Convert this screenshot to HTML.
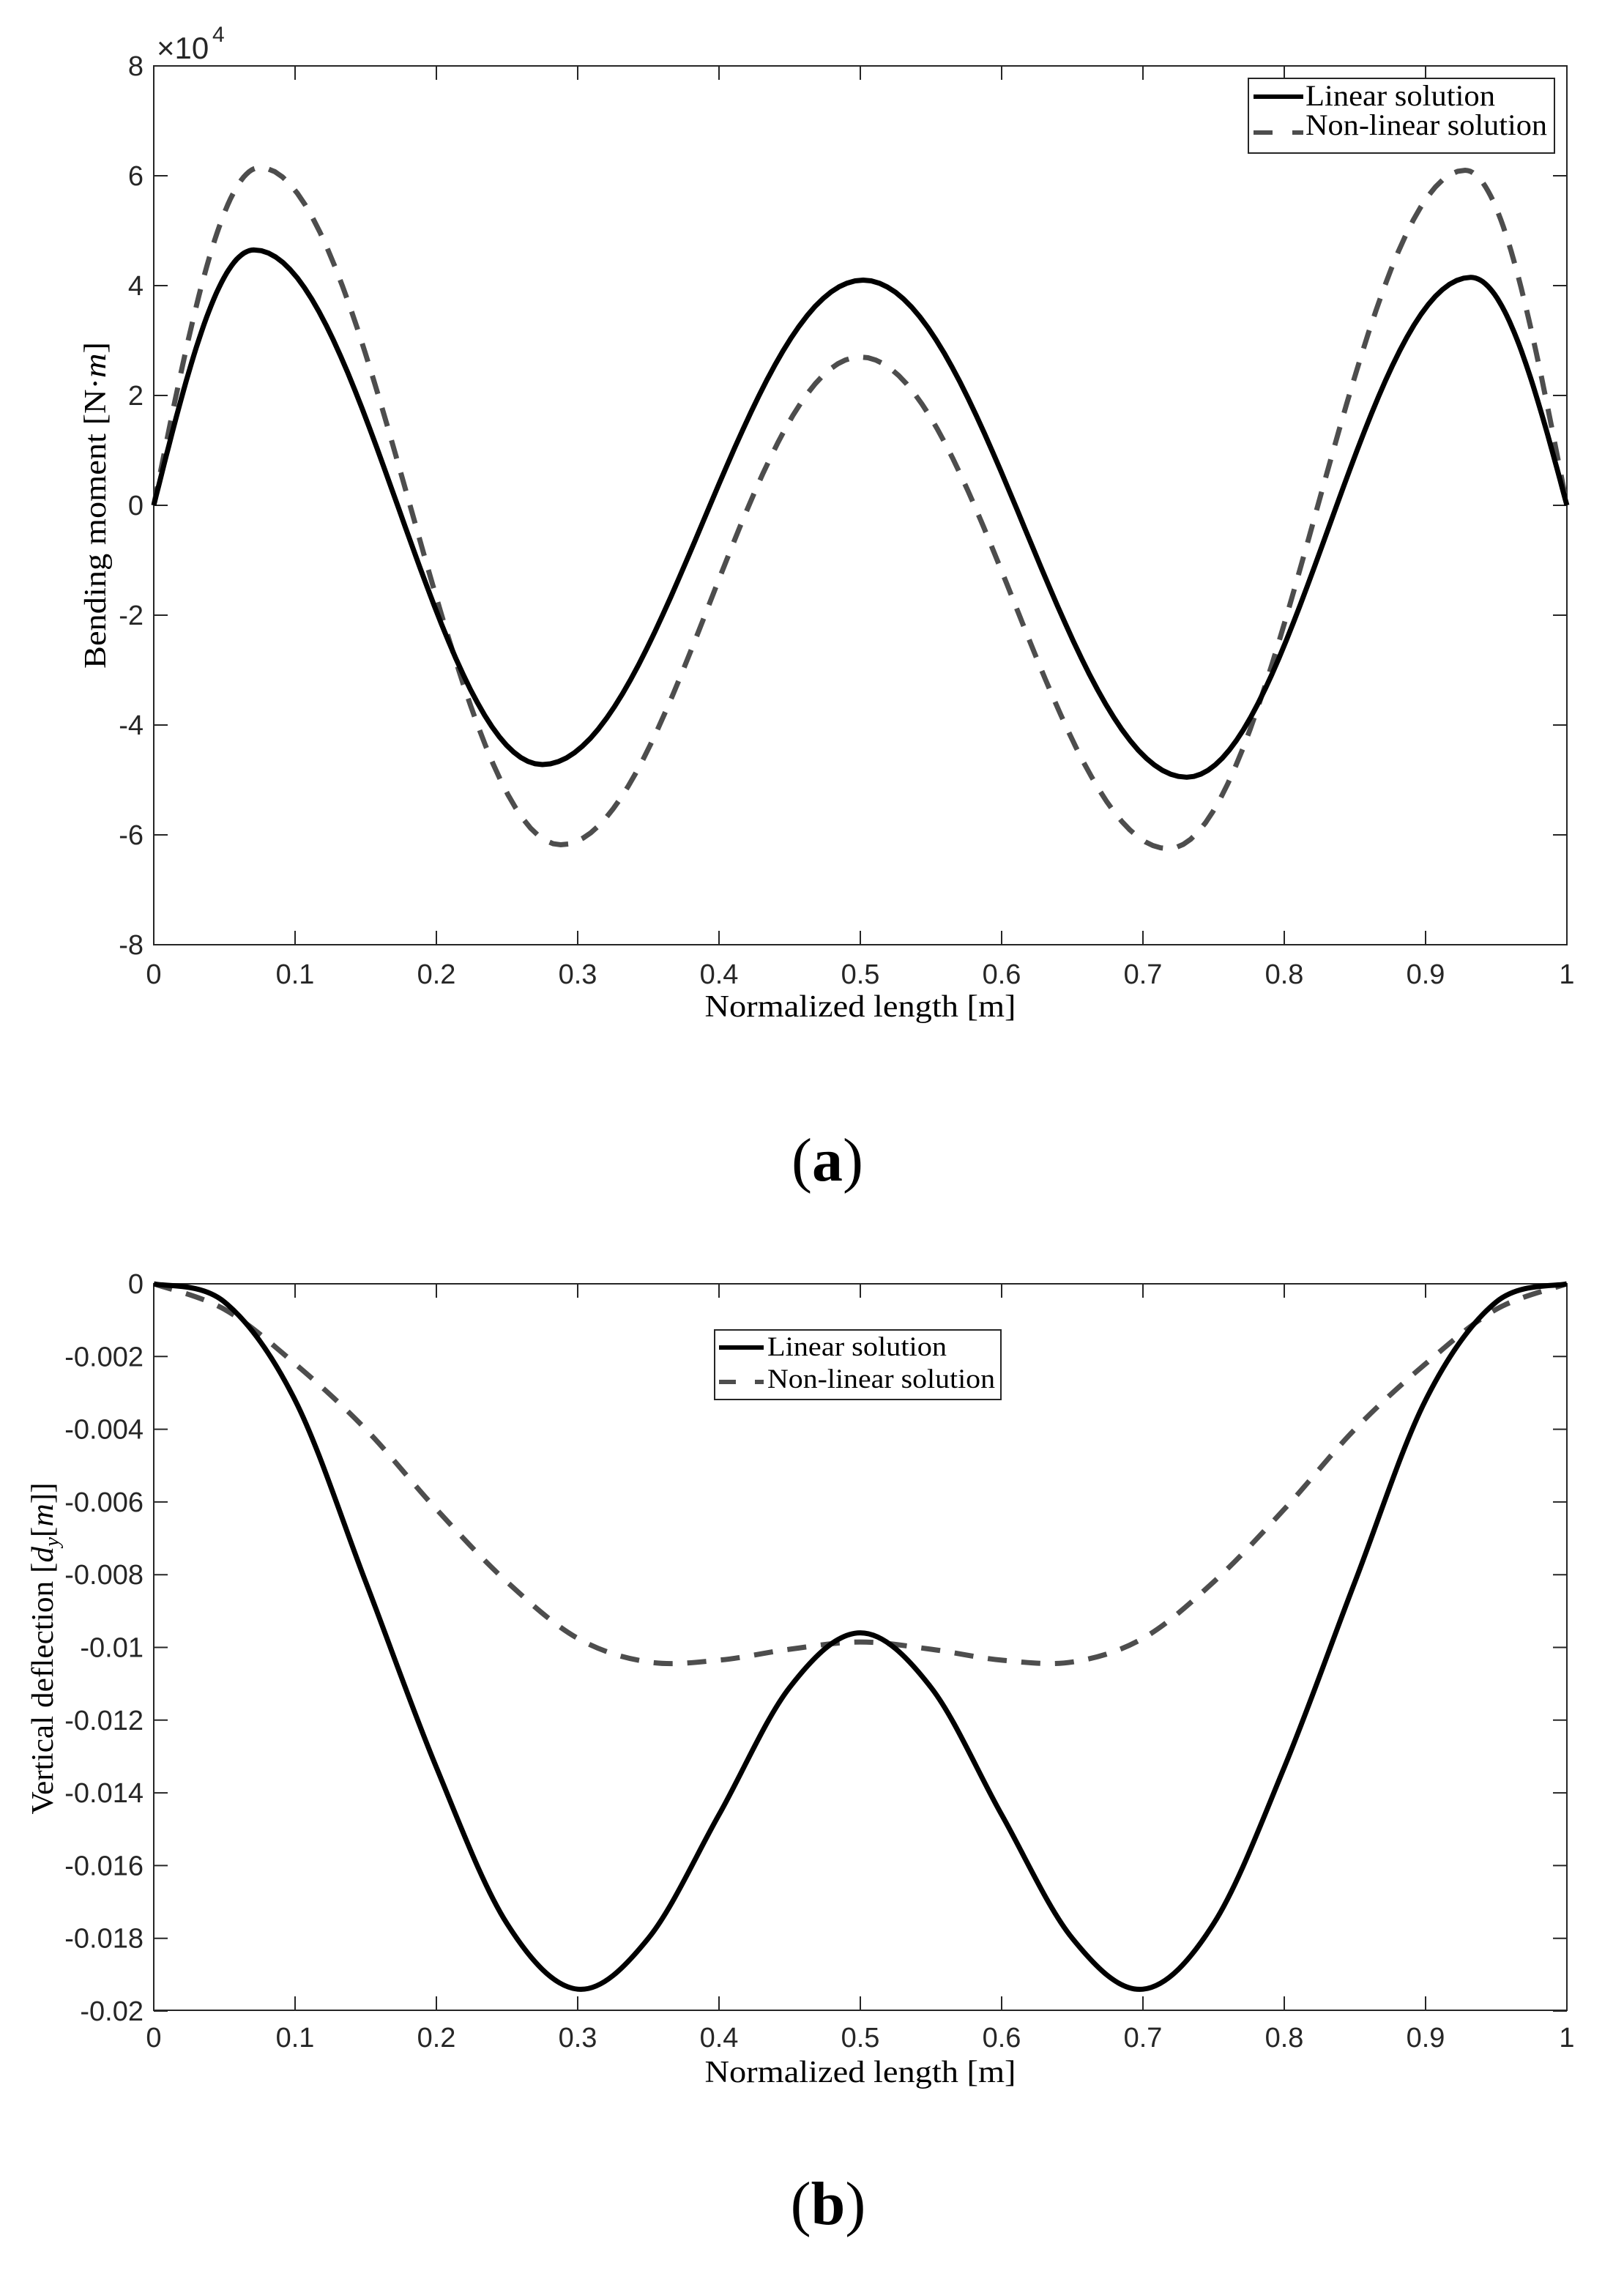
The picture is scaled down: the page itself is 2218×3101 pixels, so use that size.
<!DOCTYPE html>
<html><head><meta charset="utf-8">
<style>
html,body{margin:0;padding:0;background:#fff;}
svg{display:block;}
.t{font-family:"Liberation Sans",sans-serif;font-size:38px;fill:#262626;}
.l{font-family:"Liberation Serif",serif;font-size:42px;fill:#000;}
.g{font-family:"Liberation Serif",serif;font-size:40px;fill:#000;}
</style></head>
<body>
<svg id="s" xmlns="http://www.w3.org/2000/svg" width="2218" height="3101" viewBox="0 0 2218 3101">
<rect width="2218" height="3101" fill="#fff"/>
<g id="a"></g>
<g id="b"></g>
<text class="t" x="214" y="80" style="font-size:42px">×10</text>
<text class="t" x="290" y="57" style="font-size:30px">4</text>
<text class="l" x="1175" y="1388" text-anchor="middle" textLength="425" lengthAdjust="spacingAndGlyphs">Normalized length [m]</text>
<text class="l" transform="translate(144,690) rotate(-90)" text-anchor="middle" textLength="446" lengthAdjust="spacingAndGlyphs">Bending moment [N·<tspan font-style="italic">m</tspan>]</text>
<rect x="1705" y="107" width="418" height="102" fill="#fff" stroke="#262626" stroke-width="2"/>
<line x1="1712" y1="132" x2="1780" y2="132" stroke="#000" stroke-width="6"/>
<line x1="1712" y1="181" x2="1780" y2="181" stroke="#4d4d4d" stroke-width="6" stroke-dasharray="26,27"/>
<text class="g" x="1783" y="144" textLength="259" lengthAdjust="spacingAndGlyphs">Linear solution</text>
<text class="g" x="1783" y="184" textLength="330" lengthAdjust="spacingAndGlyphs">Non-linear solution</text>
<text x="1130" y="1612" text-anchor="middle" style="font-family:'Liberation Serif',serif;font-size:84px">(<tspan font-weight="bold">a</tspan>)</text>
<text class="l" x="1175" y="2843" text-anchor="middle" textLength="425" lengthAdjust="spacingAndGlyphs">Normalized length [m]</text>
<text class="l" transform="translate(72,2251) rotate(-90)" text-anchor="middle" textLength="453" lengthAdjust="spacingAndGlyphs">Vertical deflection [<tspan font-style="italic">d</tspan><tspan font-style="italic" font-size="28" dy="8">y</tspan><tspan dy="-8">[</tspan><tspan font-style="italic">m</tspan>]]</text>
<rect x="976" y="1816" width="391" height="95" fill="#fff" stroke="#262626" stroke-width="2"/>
<line x1="982" y1="1840" x2="1043" y2="1840" stroke="#000" stroke-width="6"/>
<line x1="982" y1="1887" x2="1043" y2="1887" stroke="#4d4d4d" stroke-width="6" stroke-dasharray="23,26"/>
<text class="g" x="1048" y="1851" style="font-size:37px" textLength="245" lengthAdjust="spacingAndGlyphs">Linear solution</text>
<text class="g" x="1048" y="1895" style="font-size:37px" textLength="311" lengthAdjust="spacingAndGlyphs">Non-linear solution</text>
<text x="1131" y="3037" text-anchor="middle" style="font-family:'Liberation Serif',serif;font-size:84px">(<tspan font-weight="bold">b</tspan>)</text>
</svg>
<script>
var NS="http://www.w3.org/2000/svg";
function el(p,tag,attrs,txt){var e=document.createElementNS(NS,tag);for(var k in attrs)e.setAttribute(k,attrs[k]);if(txt!==undefined)e.textContent=txt;p.appendChild(e);return e;}
var L=210,R=2140;
function X(x){return L+(R-L)*x;}
function axes(g,top,bot,ticks,Yf,xlabY){
  for(var i=0;i<=10;i++){var x=X(i/10);
    el(g,"line",{x1:x,y1:bot,x2:x,y2:bot-19,stroke:"#262626","stroke-width":2});
    el(g,"line",{x1:x,y1:top,x2:x,y2:top+19,stroke:"#262626","stroke-width":2});
    var s=(i==0)?"0":(i==10)?"1":("0."+i);
    el(g,"text",{"class":"t",x:x,y:xlabY,"text-anchor":"middle"},s);
  }
  ticks.forEach(function(t){var y=Yf(t[0]);
    el(g,"line",{x1:L,y1:y,x2:L+19,y2:y,stroke:"#262626","stroke-width":2});
    el(g,"line",{x1:R,y1:y,x2:R-19,y2:y,stroke:"#262626","stroke-width":2});
    el(g,"text",{"class":"t",x:196,y:y+13,"text-anchor":"end"},t[1]);
  });
  el(g,"rect",{x:L,y:top,width:R-L,height:bot-top,fill:"none",stroke:"#262626","stroke-width":2});
}
function cr(pts){
  var d="M"+pts[0][0].toFixed(1)+" "+pts[0][1].toFixed(1);
  for(var i=0;i<pts.length-1;i++){
    var p0=pts[i-1]||pts[i],p1=pts[i],p2=pts[i+1],p3=pts[i+2]||pts[i+1];
    var c1=[p1[0]+(p2[0]-p0[0])/6,p1[1]+(p2[1]-p0[1])/6];
    var c2=[p2[0]-(p3[0]-p1[0])/6,p2[1]-(p3[1]-p1[1])/6];
    d+=" C"+c1[0].toFixed(1)+" "+c1[1].toFixed(1)+" "+c2[0].toFixed(1)+" "+c2[1].toFixed(1)+" "+p2[0].toFixed(1)+" "+p2[1].toFixed(1);
  }
  return d;
}
var ga=document.getElementById("a");
var YA=function(v){return 690-75*v;};
var ta=[];for(var v=-8;v<=8;v+=2)ta.push([v,String(v)]);
axes(ga,90,1290,ta,YA,1343);
function cosCurve(ext){
  var pts=[];var N=40;
  var e=ext[0];
  for(var k=0;k<=N;k++){var t=k/N;pts.push([e[0]*t,e[1]*Math.sin(Math.PI/2*t)]);}
  for(var i=0;i<ext.length-1;i++){var a=ext[i],b=ext[i+1];
    for(var k=1;k<=N;k++){var t=k/N;pts.push([a[0]+(b[0]-a[0])*t,a[1]+(b[1]-a[1])*(1-Math.cos(Math.PI*t))/2]);}}
  var e2=ext[ext.length-1];
  for(var k=1;k<=N;k++){var t=k/N;pts.push([e2[0]+(1-e2[0])*t,e2[1]*Math.cos(Math.PI/2*t)]);}
  return pts;
}
function poly(pts,Yf){return "M"+pts.map(function(p){return X(p[0]).toFixed(1)+" "+Yf(p[1]).toFixed(1);}).join(" L");}
var linA=cosCurve([[0.071,4.65],[0.275,-4.72],[0.502,4.1],[0.731,-4.95],[0.932,4.15]]);
var nlA=cosCurve([[0.075,6.15],[0.288,-6.18],[0.5,2.7],[0.718,-6.25],[0.928,6.1]]);
el(ga,"path",{d:poly(nlA,YA),fill:"none",stroke:"#4d4d4d","stroke-width":7,"stroke-dasharray":"26,20"});
el(ga,"path",{d:poly(linA,YA),fill:"none",stroke:"#000","stroke-width":7,"stroke-linejoin":"round"});
var gb=document.getElementById("b");
var YB=function(v){return 1753-49.65*v;};
var tb=[[0,"0"],[-2,"-0.002"],[-4,"-0.004"],[-6,"-0.006"],[-8,"-0.008"],[-10,"-0.01"],[-12,"-0.012"],[-14,"-0.014"],[-16,"-0.016"],[-18,"-0.018"],[-20,"-0.02"]];
axes(gb,1753,2745,tb,YB,2795);
function mirror(h){var pts=h.slice();for(var i=h.length-2;i>=0;i--)pts.push([1-h[i][0],h[i][1]]);return pts.map(function(p){return [X(p[0]),YB(p[1])];});}
var linB=mirror([[0,0],[0.05,-0.5],[0.1,-3.2],[0.15,-8.2],[0.2,-13.3],[0.25,-17.6],[0.3,-19.4],[0.35,-18.0],[0.4,-14.6],[0.45,-11.1],[0.5,-9.6]]);
var nlB=mirror([[0,0],[0.05,-0.7],[0.1,-2.2],[0.15,-4],[0.2,-6.2],[0.25,-8.2],[0.3,-9.75],[0.35,-10.4],[0.4,-10.35],[0.45,-10.05],[0.5,-9.85]]);
el(gb,"path",{d:cr(nlB),fill:"none",stroke:"#4d4d4d","stroke-width":7,"stroke-dasharray":"26,20"});
el(gb,"path",{d:cr(linB),fill:"none",stroke:"#000","stroke-width":7,"stroke-linejoin":"round"});
</script>
</body></html>
